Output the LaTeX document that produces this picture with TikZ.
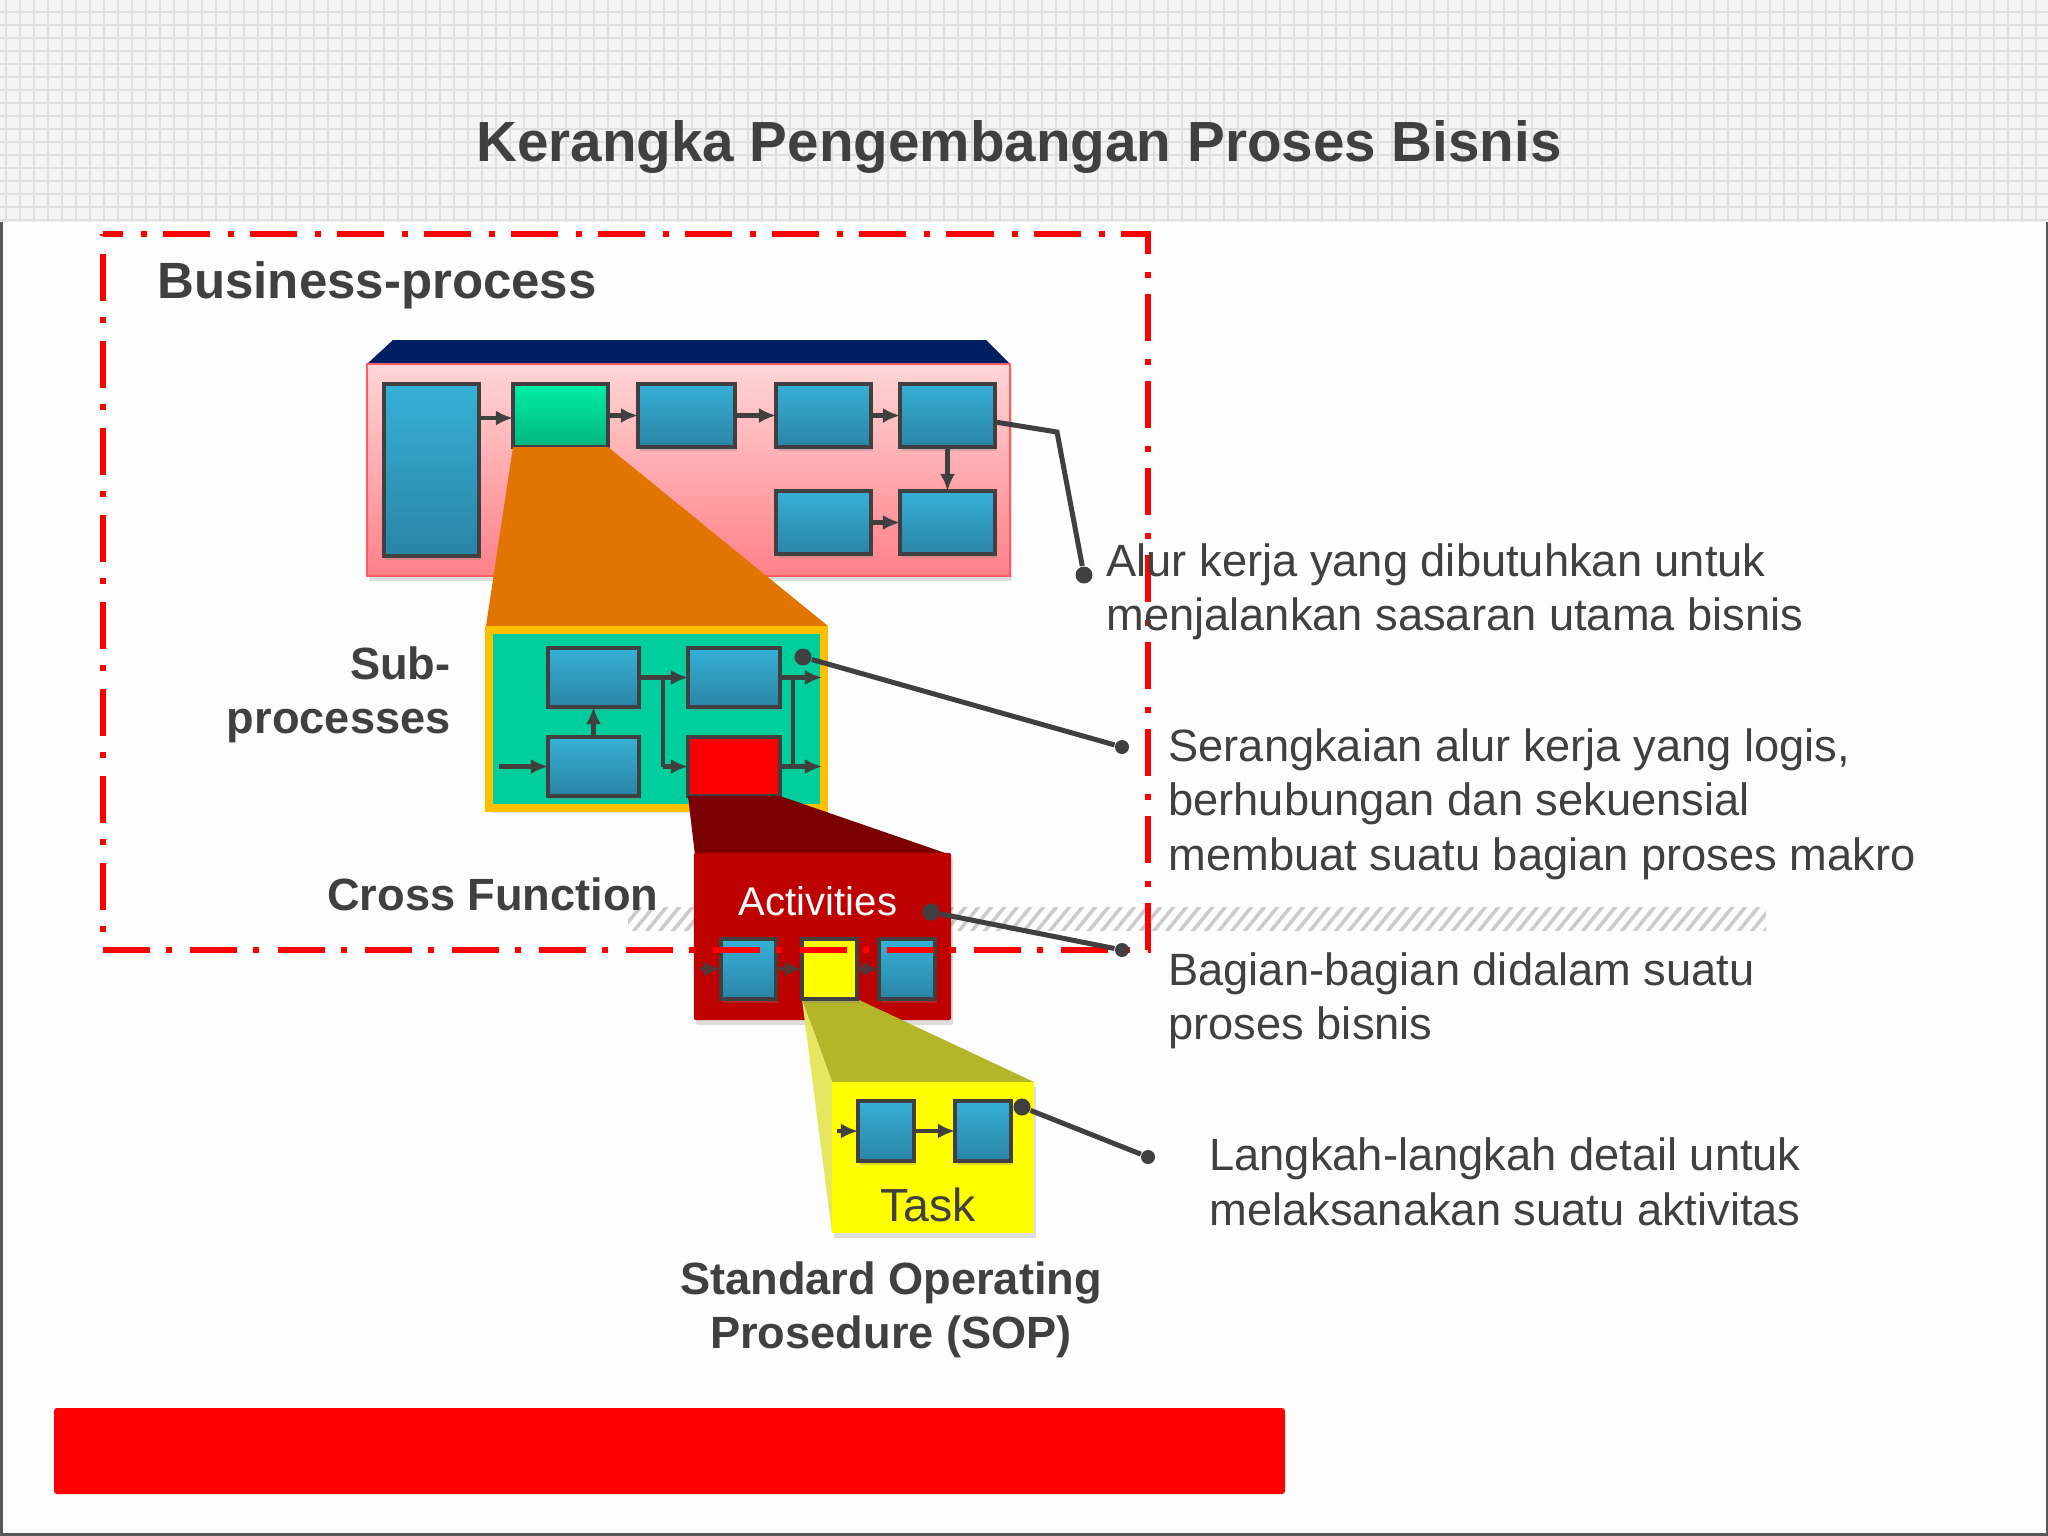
\documentclass[tikz,border=0pt]{standalone}
\usepackage{fontspec}
\setmainfont{Liberation Sans}
\usetikzlibrary{arrows.meta,shadows}

\tikzset{
	flowbox/.style={draw=boxline,line width=0.04cm,inner sep=0pt,outer sep=0pt,top color=boxtop,bottom color=boxbot,drop shadow={shadow xshift=0.02cm,shadow yshift=-0.04cm,opacity=0.3}},
	flowarrow/.style={draw=boxline,line width=0.045cm,-{Latex[length=0.17cm,width=0.15cm]}},
	flowline/.style={draw=boxline,line width=0.045cm},
	pointer/.style={draw=boxline,line width=0.05cm},
	pointdot/.style={circle,fill=boxline,inner sep=0pt,minimum size=0.16cm},
	panel/.style={inner sep=0pt,outer sep=0pt,drop shadow={shadow xshift=0.02cm,shadow yshift=-0.05cm,opacity=0.25}},
	bodytext/.style={anchor=west,align=left,text=boxline,font=\fontsize{12.87}{15.5}\selectfont},
	headtext/.style={text=boxline,font=\fontsize{12.85}{15.5}\selectfont\bfseries}
}

\begin{document}
\begin{tikzpicture}[x=0.01cm,y=-0.01cm]
	\definecolor{boxline}{HTML}{404040}
	\definecolor{boxtop}{HTML}{36B0D6}
	\definecolor{boxbot}{HTML}{2A84A6}
	\definecolor{pagebg}{HTML}{FDFDFD}
	\definecolor{gridbg}{HTML}{F4F4F4}
	\definecolor{gridline}{HTML}{DFDFDF}
	\definecolor{hatchgrey}{HTML}{CBCBCB}
	\definecolor{navyband}{HTML}{001F63}
	\definecolor{pinktop}{HTML}{FFD6D6}
	\definecolor{pinkbot}{HTML}{FF8088}
	\definecolor{pinkline}{HTML}{FF5A66}
	\definecolor{greentop}{HTML}{00EFA5}
	\definecolor{greenbot}{HTML}{00B57F}
	\definecolor{orangefan}{HTML}{E27500}
	\definecolor{amberline}{HTML}{FFC000}
	\definecolor{subgreen}{HTML}{00CE9C}
	\definecolor{darkfan}{HTML}{7A0000}
	\definecolor{actred}{HTML}{BE0000}
	\definecolor{olivefan}{HTML}{B5B52A}
	\definecolor{paleyellow}{HTML}{E6E660}
	\definecolor{pureyellow}{HTML}{FFFF00}
	\definecolor{purered}{HTML}{FF0000}
	\useasboundingbox (0,0) rectangle (2048,1536);
	\fill[pagebg] (0,0) rectangle (2048,1536);
	% header band
	\fill[gridbg] (0,0) rectangle (2048,222);
	\foreach \gx in {6,20,...,2048} \draw[gridline,line width=0.025cm] (\gx,0) -- (\gx,222);
	\foreach \gy in {12,25,...,222} \draw[gridline,line width=0.025cm] (0,\gy) -- (2048,\gy);
	\draw[black!65,line width=0.03cm] (1,222) -- (1,1534) -- (2047,1534) -- (2047,222);
	\node[text=boxline,font=\fontsize{16.1}{20}\selectfont\bfseries] (title) at (1019,147) {Kerangka Pengembangan Proses Bisnis};

	% hatched strip
	\begin{scope}
		\clip (628,907) rectangle (1766,930);
		\foreach \hx in {620,633,...,1770} \draw[hatchgrey,line width=0.035cm] (\hx,932) -- (\hx+22,905);
	\end{scope}

	% business process
	\fill[navyband] (367,364) -- (393,340) -- (986,340) -- (1010,364) -- cycle;
	\node[panel,draw=pinkline,line width=0.025cm,top color=pinktop,bottom color=pinkbot,minimum width=6.43cm,minimum height=2.12cm] (bpanel) at (688.5,470) {};
	\node[flowbox,minimum width=0.95cm,minimum height=1.72cm] (bstart) at (431.5,470) {};
	\node[flowbox,minimum width=0.95cm,minimum height=0.63cm,top color=greentop,bottom color=greenbot] (bgreen) at (560.5,415.5) {};
	\node[flowbox,minimum width=0.97cm,minimum height=0.63cm] (btwo) at (686.5,415.5) {};
	\node[flowbox,minimum width=0.95cm,minimum height=0.63cm] (bthree) at (823.5,415.5) {};
	\node[flowbox,minimum width=0.95cm,minimum height=0.63cm] (bfour) at (947.5,415.5) {};
	\node[flowbox,minimum width=0.95cm,minimum height=0.63cm] (bfive) at (823.5,522.5) {};
	\node[flowbox,minimum width=0.95cm,minimum height=0.63cm] (bsix) at (947.5,522.5) {};
	\draw[flowarrow] (bstart.east |- 0,418) -- (bgreen.west |- 0,418);
	\draw[flowarrow] (bgreen) -- (btwo);
	\draw[flowarrow] (btwo) -- (bthree);
	\draw[flowarrow] (bthree) -- (bfour);
	\draw[flowarrow] (bfour) -- (bsix);
	\draw[flowarrow] (bfive) -- (bsix);

	% sub-processes
	\fill[orangefan] (bgreen.south west) -- (bgreen.south east) -- (828,626) -- (486,626) -- cycle;
	\node[panel,draw=amberline,line width=0.08cm,fill=subgreen,minimum width=3.35cm,minimum height=1.78cm] (spanel) at (656.5,719) {};
	\node[flowbox,minimum width=0.91cm,minimum height=0.59cm] (sone) at (593.5,677.5) {};
	\node[flowbox,minimum width=0.92cm,minimum height=0.59cm] (stwo) at (734,677.5) {};
	\node[flowbox,minimum width=0.91cm,minimum height=0.59cm] (sthree) at (593.5,766.5) {};
	\node[flowbox,minimum width=0.92cm,minimum height=0.59cm,top color=purered,bottom color=purered] (sred) at (734,766.5) {};
	\coordinate (sin) at (499,766.5);
	\coordinate (souta) at (822,677.5);
	\coordinate (soutb) at (822,766.5);
	\draw[flowarrow] (sin) -- (sthree);
	\draw[flowarrow] (sthree) -- (sone);
	\draw[flowarrow] (sone) -- (stwo);
	\draw[flowarrow] (stwo) -- (souta);
	\draw[flowarrow] (sred) -- (soutb);
	\draw[flowline] (663,677.5) -- (663,766.5);
	\draw[flowarrow] (663,766.5) -- (sred);
	\draw[flowline] (793,677.5) -- (793,766.5);

	% activities
	\fill[darkfan] (sred.south west) -- (sred.south east) -- (951,855) -- (695,855) -- cycle;
	\node[panel,fill=actred,minimum width=2.57cm,minimum height=1.67cm,rounded corners=0.02cm] (apanel) at (822.5,936.5) {};
	\node[text=white,font=\fontsize{11.4}{14}\selectfont] (alabel) at (818,901) {Activities};
	\fill[olivefan] (802,999) -- (857,999) -- (1034,1082) -- (832,1082) -- cycle;
	\fill[paleyellow] (802,999) -- (832,1082) -- (832,1233) -- cycle;
	\node[flowbox,minimum width=0.55cm,minimum height=0.6cm] (aone) at (748.5,969) {};
	\node[flowbox,minimum width=0.55cm,minimum height=0.6cm,top color=pureyellow,bottom color=pureyellow] (ayellow) at (829.5,969) {};
	\node[flowbox,minimum width=0.55cm,minimum height=0.6cm] (atwo) at (907,969) {};
	\coordinate (ain) at (700,969);
	\draw[flowarrow,draw=boxline!85!actred] (ain) -- (aone);
	\draw[flowarrow,draw=boxline!85!actred] (aone) -- (ayellow);
	\draw[flowarrow,draw=boxline!85!actred] (ayellow) -- (atwo);

	% task
	\node[panel,fill=pureyellow,minimum width=2.02cm,minimum height=1.51cm] (tpanel) at (933,1157.5) {};
	\node[flowbox,minimum width=0.56cm,minimum height=0.6cm] (tone) at (886,1131) {};
	\node[flowbox,minimum width=0.56cm,minimum height=0.6cm] (ttwo) at (983,1131) {};
	\coordinate (tin) at (837,1131);
	\draw[flowarrow] (tin) -- (tone);
	\draw[flowarrow] (tone) -- (ttwo);
	\node[text=boxline,font=\fontsize{13.2}{15}\selectfont] (tlabel) at (928,1205) {Task};

	% dashed frame
	\draw[purered,line width=0.06cm,dash pattern=on 0.47cm off 0.18cm on 0.06cm off 0.16cm,dash phase=0.27cm] (103,234) -- (1148,234) -- (1148,950) -- (103,950) -- cycle;

	% pointers
	\node[pointdot,minimum size=0.17cm] (pone) at (1084,575) {};
	\node[pointdot,minimum size=0.17cm] (ptwo) at (803,657) {};
	\node[pointdot,minimum size=0.14cm] (ptwoend) at (1122,747) {};
	\node[pointdot,minimum size=0.17cm] (pthree) at (931,912) {};
	\node[pointdot,minimum size=0.14cm] (pthreeend) at (1122,950) {};
	\node[pointdot,minimum size=0.17cm] (pfour) at (1022,1107) {};
	\node[pointdot,minimum size=0.14cm] (pfourend) at (1148,1157) {};
	\draw[pointer] (bfour.east |- 0,422) -- (1057,432) -- (pone);
	\draw[pointer] (ptwo) -- (ptwoend);
	\draw[pointer] (pthree) -- (pthreeend);
	\draw[pointer] (pfour) -- (pfourend);

	% labels
	\node[anchor=west,text=boxline,font=\fontsize{14.5}{18}\selectfont\bfseries] (bptext) at (145,285) {Business-process};
	\node[headtext,anchor=east,align=right] (subtext) at (463,695) {Sub-\\processes};
	\node[headtext,anchor=east] (crosstext) at (671,894) {Cross Function};
	\node[headtext,align=center] (soptext) at (891,1310) {Standard Operating\\Prosedure (SOP)};
	\node[bodytext] (alurtext) at (1094,592) {Alur kerja yang dibutuhkan untuk\\menjalankan sasaran utama bisnis};
	\node[bodytext] (serangtext) at (1156,804) {Serangkaian alur kerja yang logis,\\berhubungan dan sekuensial\\membuat suatu bagian proses makro};
	\node[bodytext] (bagiantext) at (1156,1001) {Bagian-bagian didalam suatu\\proses bisnis};
	\node[bodytext] (langkahtext) at (1197,1182) {Langkah-langkah detail untuk\\melaksanakan suatu aktivitas};

	% bottom bar
	\fill[purered,rounded corners=0.03cm] (54,1408) rectangle (1285,1494);
\end{tikzpicture}
\end{document}
